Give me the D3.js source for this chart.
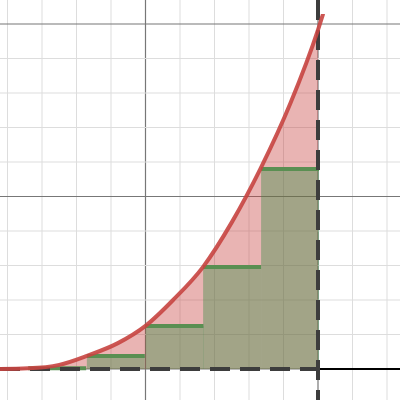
<!DOCTYPE html>
<html lang="en">
<head>
<meta charset="utf-8">
<style>
html, body { margin: 0; background: #fff; }
svg { display: block; }
</style>
</head>
<body>
<script src="https://cdn.jsdelivr.net/npm/d3@7"></script>
<script>
const w = 400, h = 400
const unit = 34.5

// curve samples (x, y in grid units)
const curveX = [-9.3, -8.4, -7.5, -6.7, -5.8, -5.0, -4.2, -3.33, -2.5, -1.67, -0.8, 0, 0.15]
const curveY = [0, 0.02, 0.12, 0.38, 0.75, 1.25, 2.0, 2.96, 4.25, 5.8, 7.7, 9.83, 10.3]
// left Riemann sum steps
const stepX = [-8.4, -6.7, -5.0, -3.33, -1.65]
const stepW = 1.68
const stepY = [0.02, 0.38, 1.25, 2.96, 5.8]

const x = d3.scaleLinear().domain([-318 / unit, (w - 318) / unit]).range([0, w])
const y = d3.scaleLinear().domain([(369 - h) / unit, 369 / unit]).range([h, 0])

const svg = d3.select('body').append('svg').attr('width', w).attr('height', h)

// grid
const gx = d3.range(-9, 3), gy = d3.range(-1, 11)
svg.append('g').selectAll('line').data(gx).join('line')
	.attr('x1', d => x(d)).attr('x2', d => x(d)).attr('y1', 0).attr('y2', h)
	.attr('stroke', d => d % 5 === 0 ? '#777' : '#ddd')
	.attr('stroke-width', d => d % 5 === 0 ? 1.2 : 1)
svg.append('g').selectAll('line').data(gy).join('line')
	.attr('y1', d => y(d)).attr('y2', d => y(d)).attr('x1', 0).attr('x2', w)
	.attr('stroke', d => d % 5 === 0 ? '#777' : '#ddd')
	.attr('stroke-width', d => d % 5 === 0 ? 1.2 : 1)

const pts = curveX.map((d, i) => [d, curveY[i]])

// area under curve
svg.append('path')
	.datum(pts.filter(p => p[0] <= 0))
	.attr('d', d3.area().x(p => x(p[0])).y0(y(0)).y1(p => y(p[1])).curve(d3.curveMonotoneX))
	.attr('fill', '#c74440').attr('fill-opacity', 0.4)

// step rectangles
svg.append('g').selectAll('rect').data(stepX).join('rect')
	.attr('x', d => x(d)).attr('width', x(stepW) - x(0))
	.attr('y', (d, i) => y(stepY[i])).attr('height', (d, i) => y(0) - y(stepY[i]))
	.attr('fill', '#388c46').attr('fill-opacity', 0.4)

// step tops
svg.append('g').selectAll('line').data(stepX).join('line')
	.attr('x1', d => x(d)).attr('x2', d => x(d + stepW))
	.attr('y1', (d, i) => y(stepY[i])).attr('y2', (d, i) => y(stepY[i]))
	.attr('stroke', '#5a8f52').attr('stroke-width', 4)

// axis to the right
svg.append('line').attr('x1', x(0)).attr('x2', w).attr('y1', y(0)).attr('y2', y(0))
	.attr('stroke', '#000').attr('stroke-width', 2)

// dashed boundaries
svg.append('line').attr('x1', 0).attr('x2', x(0)).attr('y1', y(0)).attr('y2', y(0))
	.attr('stroke', '#3d3d3d').attr('stroke-width', 4).attr('stroke-dasharray', '20,10')
svg.append('line').attr('x1', x(0)).attr('x2', x(0)).attr('y1', 0).attr('y2', h)
	.attr('stroke', '#3d3d3d').attr('stroke-width', 4).attr('stroke-dasharray', '20,10')

// curve
svg.append('path')
	.datum(pts)
	.attr('d', d3.line().x(p => x(p[0])).y(p => y(p[1])).curve(d3.curveMonotoneX))
	.attr('fill', 'none').attr('stroke', '#c74440').attr('stroke-width', 4)
	.attr('stroke-opacity', 0.9)
</script>
</body>
</html>
